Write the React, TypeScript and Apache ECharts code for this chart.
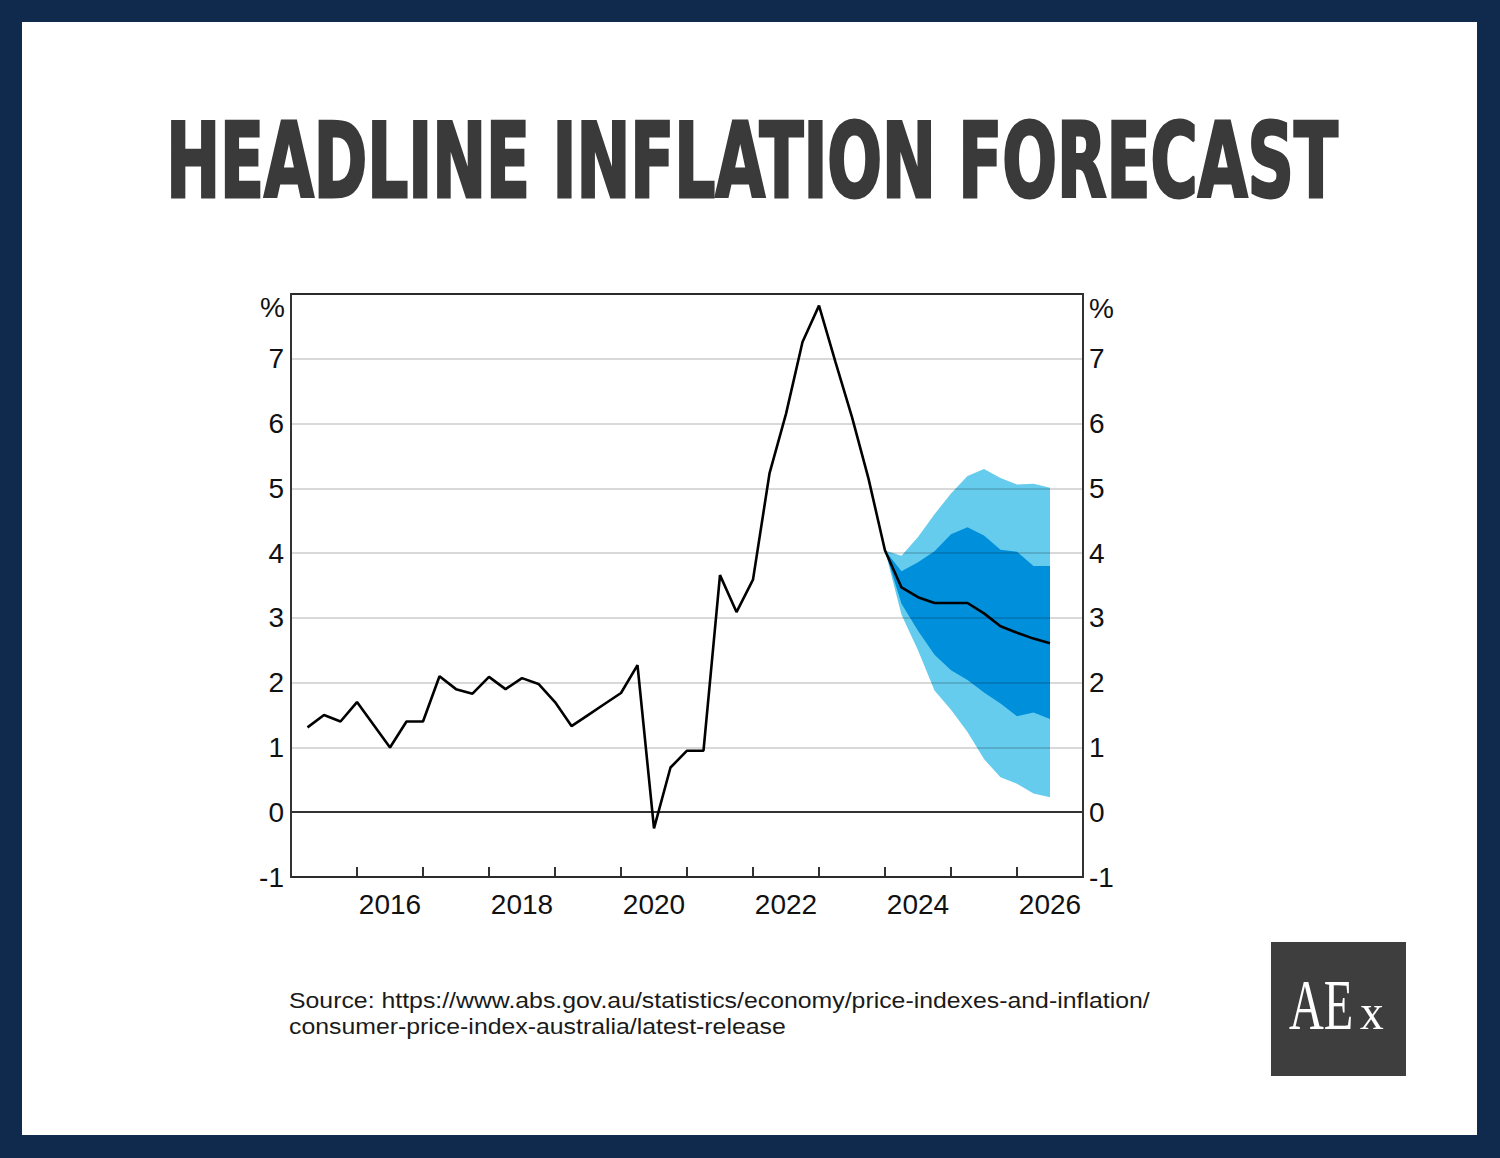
import React, { useEffect, useRef } from 'react';
import * as echarts from 'echarts';

// ---- Data ----
const quarters = [
  'Mar-2015', 'Jun-2015', 'Sep-2015', 'Dec-2015',
  'Mar-2016', 'Jun-2016', 'Sep-2016', 'Dec-2016',
  'Mar-2017', 'Jun-2017', 'Sep-2017', 'Dec-2017',
  'Mar-2018', 'Jun-2018', 'Sep-2018', 'Dec-2018',
  'Mar-2019', 'Jun-2019', 'Sep-2019', 'Dec-2019',
  'Mar-2020', 'Jun-2020', 'Sep-2020', 'Dec-2020',
  'Mar-2021', 'Jun-2021', 'Sep-2021', 'Dec-2021',
  'Mar-2022', 'Jun-2022', 'Sep-2022', 'Dec-2022',
  'Mar-2023', 'Jun-2023', 'Sep-2023', 'Dec-2023',
  'Mar-2024', 'Jun-2024', 'Sep-2024', 'Dec-2024',
  'Mar-2025', 'Jun-2025', 'Sep-2025', 'Dec-2025',
  'Mar-2026', 'Jun-2026',
];

// Headline CPI, year-ended % (history + central forecast)
const cpi = [
  1.31, 1.50, 1.40, 1.70,
  1.35, 1.00, 1.40, 1.40,
  2.10, 1.90, 1.83, 2.09,
  1.90, 2.07, 1.98, 1.70,
  1.33, 1.50, 1.67, 1.84,
  2.27, -0.25, 0.69, 0.95,
  0.95, 3.66, 3.09, 3.59,
  5.23, 6.15, 7.26, 7.82,
  6.95, 6.10, 5.15, 4.04,
  3.47, 3.32, 3.23, 3.23,
  3.23, 3.07, 2.87, 2.77,
  2.68, 2.61,
];

// Forecast fan (from Dec-2023 to Jun-2026)
const fanStart = 'Dec-2023';
const fanOuterLow = [4.04, 3.05, 2.50, 1.88, 1.58, 1.24, 0.82, 0.54, 0.44, 0.29, 0.23];
const fanInnerLow = [4.04, 3.22, 2.80, 2.43, 2.19, 2.04, 1.85, 1.68, 1.48, 1.54, 1.44];
const fanInnerHigh = [4.04, 3.72, 3.86, 4.03, 4.29, 4.40, 4.27, 4.05, 4.02, 3.80, 3.80];
const fanOuterHigh = [4.04, 3.96, 4.25, 4.60, 4.92, 5.19, 5.30, 5.16, 5.06, 5.07, 5.01];

// Axis labels
const xLabelYears = [2016, 2018, 2020, 2022, 2024, 2026];
const yUnit = '%';

const titleText = 'HEADLINE INFLATION FORECAST';
const sourceLines = [
  'Source: https://www.abs.gov.au/statistics/economy/price-indexes-and-inflation/',
  'consumer-price-index-australia/latest-release',
];

const monthFrac: Record<string, number> = { Mar: 0.25, Jun: 0.5, Sep: 0.75, Dec: 1 };
const toX = (q: string) => {
  const [m, y] = q.split('-');
  return Number(y) + monthFrac[m];
};

const LIGHT = '#66ccee';
const DARK = '#0090db';
const AXIS = '#333333';
const SANS = '"Liberation Sans", Arial, Helvetica, sans-serif';
const TITLE_FONT = '"DejaVu Sans Condensed", "DejaVu Sans", sans-serif';
const SERIF = '"Liberation Serif", "Times New Roman", serif';

export default function App() {
  const ref = useRef<HTMLDivElement>(null);

  useEffect(() => {
    const el = ref.current!;
    const chart = echarts.init(el, null, { renderer: 'svg' });

    const ctx = document.createElement('canvas').getContext('2d')!;
    const measure = (text: string, font: string) => {
      ctx.font = font;
      return ctx.measureText(text).width;
    };

    const titleSize = 104;
    const titleW = measure(titleText, `bold ${titleSize}px ${TITLE_FONT}`);
    const titleScale = titleW > 0 ? 1172 / titleW : 1;

    const srcSize = 22;
    const srcW = measure(sourceLines[0], `${srcSize}px ${SANS}`);
    const srcScale = srcW > 0 ? Math.min(1.15, Math.max(0.85, 861 / srcW)) : 1;

    const fanQuarters = quarters.slice(quarters.indexOf(fanStart));
    const fx = fanQuarters.map(toX);

    const lineData = quarters.map((q, i) => [toX(q), cpi[i]]);

    const yLabelFmt = (v: number) => (v === 8 ? '' : String(v));

    const fanSeries = {
      type: 'custom',
      name: 'Forecast range',
      xAxisIndex: 0,
      yAxisIndex: 0,
      z: 2,
      silent: true,
      clip: false,
      data: fx.map((x, i) => [x, fanOuterHigh[i]]),
      encode: { x: 0, y: 1 },
      renderItem: (params: any, api: any) => {
        if (params.dataIndex !== 0) return null;
        const poly = (hi: number[], lo: number[]) => [
          ...hi.map((v, i) => api.coord([fx[i], v])),
          ...lo.map((v, i) => api.coord([fx[i], v])).reverse(),
        ];
        return {
          type: 'group',
          children: [
            { type: 'polygon', shape: { points: poly(fanOuterHigh, fanOuterLow) }, style: { fill: LIGHT, stroke: 'none' } },
            { type: 'polygon', shape: { points: poly(fanInnerHigh, fanInnerLow) }, style: { fill: DARK, stroke: 'none' } },
          ],
        };
      },
    };

    const option: any = {
      animation: false,
      backgroundColor: 'transparent',
      grid: {
        left: 291,
        top: 294,
        width: 792,
        height: 583,
        show: true,
        borderColor: AXIS,
        borderWidth: 2,
        backgroundColor: 'transparent',
      },
      xAxis: [
        {
          type: 'value',
          min: 2015,
          max: 2027,
          interval: 1,
          position: 'bottom',
          axisLine: { show: true, onZero: false, lineStyle: { color: AXIS, width: 2 } },
          axisTick: { show: true, inside: true, length: 10, lineStyle: { color: AXIS, width: 2 } },
          axisLabel: { show: false },
          splitLine: { show: false },
        },
        {
          type: 'value',
          min: 2015,
          max: 2027,
          interval: 0.5,
          position: 'bottom',
          axisLine: { show: false, onZero: false },
          axisTick: { show: false },
          splitLine: { show: false },
          axisLabel: {
            show: true,
            margin: 13,
            fontSize: 28,
            fontFamily: SANS,
            color: '#111',
            showMinLabel: true,
            showMaxLabel: true,
            formatter: (v: number) => {
              const y = Math.floor(v);
              return v - y === 0.5 && xLabelYears.includes(y) ? String(y) : '';
            },
          },
        },
      ],
      yAxis: [
        {
          type: 'value',
          min: -1,
          max: 8,
          interval: 1,
          position: 'left',
          z: 3,
          axisLine: { show: true, onZero: false, lineStyle: { color: AXIS, width: 2 } },
          axisTick: { show: false },
          axisLabel: {
            margin: 7,
            fontSize: 28,
            fontFamily: SANS,
            color: '#111',
            formatter: yLabelFmt,
          },
          splitLine: { show: true, lineStyle: { color: 'rgba(0,0,0,0.2)', width: 1.6 } },
        },
        {
          type: 'value',
          min: -1,
          max: 8,
          interval: 1,
          position: 'right',
          z: 3,
          axisLine: { show: true, onZero: false, lineStyle: { color: AXIS, width: 2 } },
          axisTick: { show: false },
          axisLabel: {
            margin: 6,
            fontSize: 28,
            fontFamily: SANS,
            color: '#111',
            formatter: yLabelFmt,
          },
          splitLine: { show: false },
        },
      ],
      series: [
        fanSeries,
        {
          type: 'line',
          name: 'Headline inflation',
          data: lineData,
          xAxisIndex: 0,
          yAxisIndex: 0,
          symbol: 'none',
          z: 5,
          silent: true,
          lineStyle: { color: '#000', width: 2.6 },
          itemStyle: { color: '#000' },
          markLine: {
            silent: true,
            symbol: ['none', 'none'],
            label: { show: false },
            lineStyle: { color: AXIS, width: 2, type: 'solid' },
            data: [{ yAxis: 0 }],
          },
        },
      ],
      graphic: [
        {
          type: 'text',
          x: 752,
          y: 161,
          scaleX: titleScale,
          z: 10,
          style: {
            text: titleText,
            fontFamily: TITLE_FONT,
            fontWeight: 'bold',
            fontSize: titleSize,
            fill: '#3a3a3a',
            stroke: '#3a3a3a',
            lineWidth: 3,
            align: 'center',
            verticalAlign: 'middle',
          },
        },
        {
          type: 'text',
          x: 285,
          y: 307,
          z: 10,
          style: { text: yUnit, fontFamily: SANS, fontSize: 28, fill: '#111', align: 'right', verticalAlign: 'middle' },
        },
        {
          type: 'text',
          x: 1089,
          y: 308,
          z: 10,
          style: { text: yUnit, fontFamily: SANS, fontSize: 28, fill: '#111', align: 'left', verticalAlign: 'middle' },
        },
        ...sourceLines.map((t, i) => ({
          type: 'text',
          x: 289,
          y: 1000 + i * 26,
          scaleX: srcScale,
          z: 10,
          style: { text: t, fontFamily: SANS, fontSize: srcSize, fill: '#1a1a1a', align: 'left', verticalAlign: 'middle' },
        })),
        {
          type: 'rect',
          z: 10,
          shape: { x: 1271, y: 942, width: 135, height: 134 },
          style: { fill: '#3e3e3e' },
        },
        {
          type: 'text',
          x: 1289,
          y: 1041,
          scaleX: 0.68,
          z: 11,
          style: { text: 'AE', fontFamily: SERIF, fontSize: 71, fill: '#ffffff', align: 'left', verticalAlign: 'bottom' },
        },
        {
          type: 'text',
          x: 1360,
          y: 1038,
          scaleX: 0.95,
          z: 11,
          style: { text: 'x', fontFamily: SERIF, fontSize: 50, fill: '#ffffff', align: 'left', verticalAlign: 'bottom' },
        },
      ],
    };

    chart.setOption(option);
    return () => chart.dispose();
  }, []);

  return (
    <div style={{ position: 'absolute', left: 0, top: 0, width: 1500, height: 1158, background: '#0f2a4d', overflow: 'hidden' }}>
      <div style={{ position: 'absolute', left: 22, top: 22, width: 1455, height: 1113, background: '#ffffff' }} />
      <div ref={ref} style={{ position: 'absolute', left: 0, top: 0, width: 1500, height: 1158 }} />
    </div>
  );
}
